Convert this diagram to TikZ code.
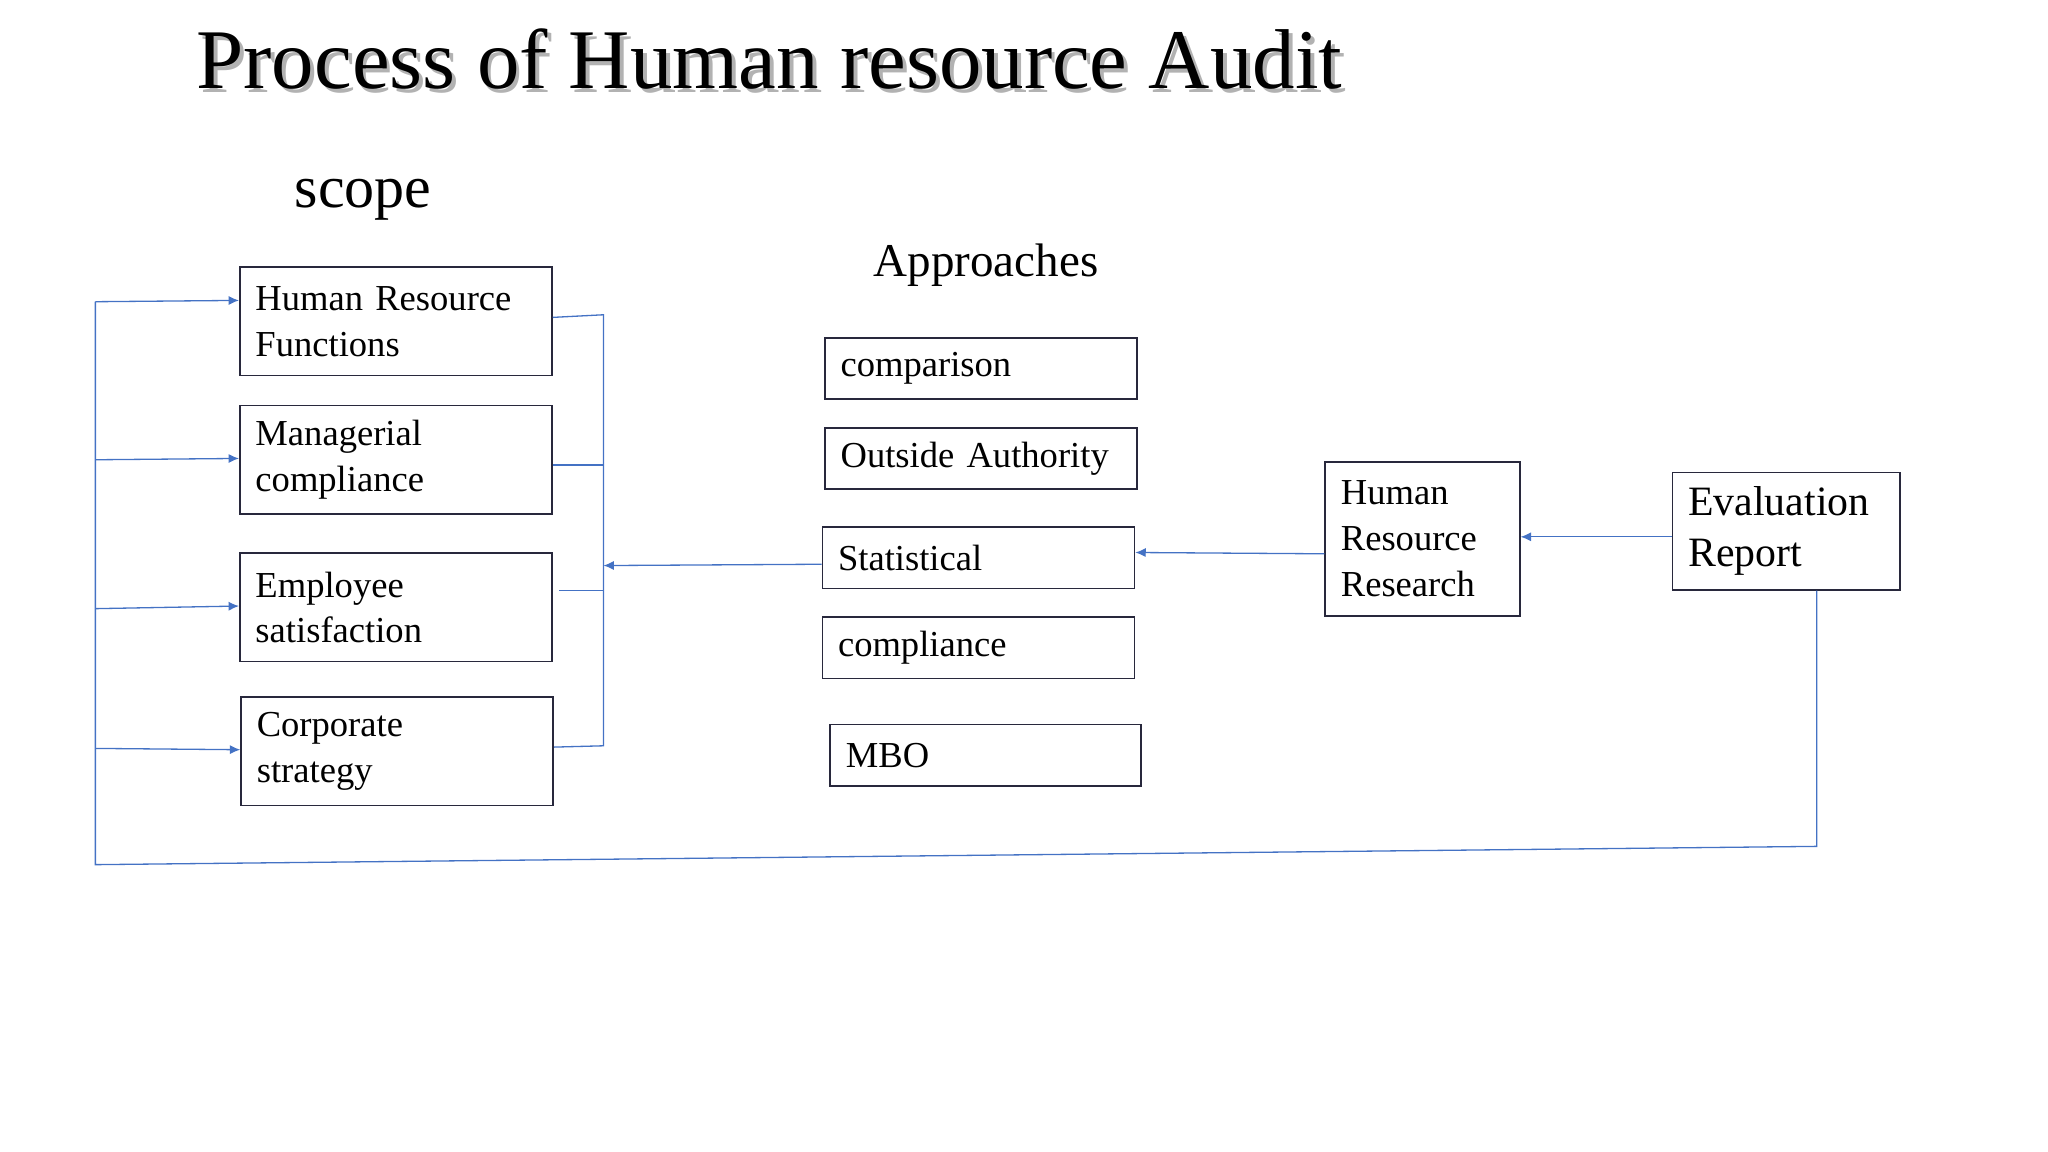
\documentclass[tikz,border=0pt]{standalone}
\usepackage{fontspec}
\setmainfont{Liberation Serif}
\usetikzlibrary{arrows.meta}
\definecolor{lb}{RGB}{68,114,196}
\definecolor{bxc}{RGB}{40,40,60}
\tikzset{
 bx/.style={draw=bxc, line width=0.6pt, anchor=north west, align=left, inner sep=0pt, font=\fontsize{14}{17.5}\selectfont},
 ln/.style={draw=lb, line width=0.5pt},
 ar/.style={ln, -{Latex[length=4pt,width=3.5pt]}}
}
\begin{document}
\begin{tikzpicture}[x=0.5pt,y=-0.5pt]
\useasboundingbox (0,0) rectangle (1568,882);
\newcommand{\bxat}[6]{\node[bx, minimum width=#4*0.5pt, minimum height=#5*0.5pt, text width=#4*0.5pt-12pt, inner xsep=6pt] (#1) at (#2,#3) {#6};}
\node[font=\fontsize{32.5}{36}\selectfont, text=gray!60, anchor=west, inner sep=0pt] at (153,48) {Process of Human resource Audit};
\node[font=\fontsize{32.5}{36}\selectfont, anchor=west, inner sep=0pt] (title) at (150,45) {Process of Human resource Audit};
\node[font=\fontsize{23}{26}\selectfont] (scope) at (278,153) {scope};
\node[font=\fontsize{18}{22}\selectfont] (appr) at (755,203) {Approaches};
\bxat{hrf}{183}{204}{239}{83}{Human Resource\\Functions}
\bxat{man}{183}{310}{239}{83}{Managerial\\compliance}
\bxat{emp}{183}{423}{239}{83}{Employee\\satisfaction}
\bxat{cor}{184}{533}{239}{83}{Corporate\\strategy}
\bxat{cmp}{631}{258}{239}{47}{comparison}
\bxat{out}{631}{327}{239}{47}{Outside Authority}
\bxat{sta}{629}{403}{239}{47}{Statistical}
\bxat{com}{629}{472}{239}{47}{compliance}
\bxat{mbo}{635}{554}{238}{47}{MBO}
\bxat{hrr}{1014}{353}{149}{118}{Human\\Resource\\Research}
\node[bx, minimum width=87pt, minimum height=45pt, text width=75pt, inner xsep=6pt, font=\fontsize{16}{19.5}\selectfont] (ev) at (1280,361) {Evaluation\\Report};
% bracket
\coordinate (b1) at (462,241); \coordinate (b2) at (462,356); \coordinate (b3) at (462,452); \coordinate (b4) at (462,571);
\coordinate (bm) at (462,433);
\draw[ln] (hrf.east |- 0,243) -- (b1) -- (b4) -- (cor.east |- 0,572);
\draw[ln] (man.east |- b2) -- (b2);
\draw[ln] (428,452) -- (b3);
\draw[ar] (sta.west |- 0,432) -- (bm);
\draw[ar] (hrr.west |- 0,424) -- (sta.east |- 0,423);
\draw[ar] (ev.west |- 0,411) -- (hrr.east |- 0,411);
% feedback
\coordinate (f1) at (1391,648); \coordinate (f2) at (73,662); \coordinate (f3) at (73,231);
\draw[ln] (ev.south -| f1) -- (f1) -- (f2) -- (f3);
\draw[ar] (f3) -- (hrf.west |- 0,230);
\draw[ar] (73,352) -- (man.west |- 0,351);
\draw[ar] (73,466) -- (emp.west |- 0,464);
\draw[ar] (73,573) -- (cor.west |- 0,574);
\end{tikzpicture}
\end{document}
